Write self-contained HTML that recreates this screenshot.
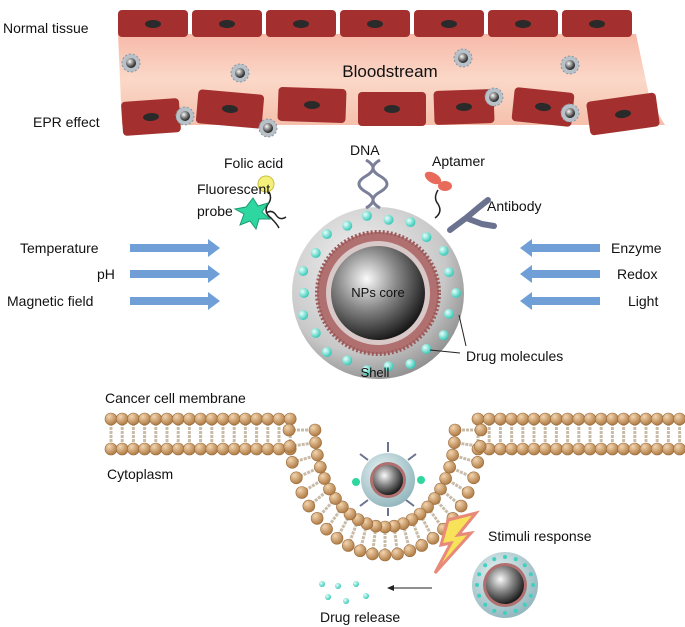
<!DOCTYPE html>
<html><head><meta charset="utf-8"><style>
body{margin:0;background:#fff}
svg{display:block}
text{font-family:"Liberation Sans",sans-serif;fill:#111}
</style></head><body>
<svg id="s" width="685" height="627" viewBox="0 0 685 627" xmlns="http://www.w3.org/2000/svg">
<defs>
<radialGradient id="core" cx="0.38" cy="0.35" r="0.7"><stop offset="0" stop-color="#fafafa"/><stop offset="0.45" stop-color="#8a8a8a"/><stop offset="1" stop-color="#111"/></radialGradient>
<radialGradient id="shell" cx="0.4" cy="0.35" r="0.7"><stop offset="0" stop-color="#f4f4f4"/><stop offset="0.7" stop-color="#c8c8c8"/><stop offset="1" stop-color="#8a8a8a"/></radialGradient>
<radialGradient id="shell2" cx="0.4" cy="0.35" r="0.7"><stop offset="0" stop-color="#e8f4f4"/><stop offset="1" stop-color="#8fb4bb"/></radialGradient>
<radialGradient id="head" cx="0.35" cy="0.3" r="0.7"><stop offset="0" stop-color="#f3d5b0"/><stop offset="1" stop-color="#b07c45"/></radialGradient>
<radialGradient id="drug" cx="0.35" cy="0.35" r="0.7"><stop offset="0" stop-color="#e8fffb"/><stop offset="1" stop-color="#2ec6b4"/></radialGradient>
<linearGradient id="blood" x1="0" y1="0" x2="0" y2="1"><stop offset="0" stop-color="#f7b9a8"/><stop offset="0.5" stop-color="#fbd8c8"/><stop offset="1" stop-color="#f5c0ac"/></linearGradient>
<marker id="ah" markerWidth="8" markerHeight="8" refX="6" refY="4" orient="auto"><path d="M0,1 L7,4 L0,7z" fill="#222"/></marker>
</defs>
<path d="M118,34 L636,34 L650,100 L665,125 L122,125 Z" fill="url(#blood)"/>
<g id="cells"></g>
<text x="3" y="33" font-size="14">Normal tissue</text>
<text x="33" y="127" font-size="14">EPR effect</text>
<text x="390" y="77" font-size="17" text-anchor="middle">Bloodstream</text>

<circle cx="378" cy="293" r="86" fill="url(#shell)"/>
<circle cx="378" cy="293" r="61" fill="#b07070" stroke="#9c5a5a" stroke-width="4" stroke-dasharray="2 2"/>
<circle cx="378" cy="293" r="52" fill="#d8c8c8"/>
<circle cx="378" cy="293" r="47" fill="url(#core)"/>
<text x="378" y="297" font-size="13" text-anchor="middle">NPs core</text>
<g id="drugs"></g>
<text x="375" y="377" font-size="13" text-anchor="middle">Shell</text>

<path d="M268,190 q5,8 0,14 q-5,8 3,14 q6,6 8,10" stroke="#222" fill="none" stroke-width="1.5"/>
<circle cx="266" cy="184" r="8" fill="#f5f07a" stroke="#c8c040"/>
<path d="M366,160 q14,8 0,16 q-14,8 0,16 q14,8 0,16 M380,160 q-14,8 0,16 q14,8 0,16 q-14,8 0,16" stroke="#7b7f9a" stroke-width="3" fill="none"/>
<path d="M438,190 q-5,8 0,14 q5,8 -3,14" stroke="#222" fill="none" stroke-width="1.5"/>
<ellipse cx="433" cy="178" rx="9" ry="5" fill="#e86a5a" transform="rotate(30 433 178)"/>
<ellipse cx="445" cy="186" rx="7" ry="5" fill="#e86a5a"/>
<path d="M450,230 L466,218 L478,208 M466,218 L482,224 M478,208 L488,200 M482,224 L494,226" stroke="#6b7290" stroke-width="6" fill="none" stroke-linecap="round"/>
<polygon points="253,198 258,206 268,203 262,212 270,219 259,219 256,229 250,221 240,225 244,214 235,209 246,207" fill="#2ed6a0" stroke="#1a9c70"/>
<path d="M266,213 q6,-4 10,2 q4,6 10,2" stroke="#222" fill="none" stroke-width="1.5"/>
<text x="224" y="168" font-size="14">Folic acid</text>
<text x="350" y="155" font-size="14">DNA</text>
<text x="432" y="166" font-size="14">Aptamer</text>
<text x="487" y="211" font-size="14">Antibody</text>
<text x="197" y="194" font-size="14">Fluorescent</text>
<text x="197" y="216" font-size="14">probe</text>
<line x1="459" y1="315" x2="466" y2="346" stroke="#222"/>
<line x1="430" y1="350" x2="460" y2="353" stroke="#222"/>
<text x="466" y="361" font-size="14">Drug molecules</text>

<g fill="#6f9fd6">
<path d="M130,244 h78 v-5 l12,9 -12,9 v-5 h-78z"/>
<path d="M130,270 h78 v-5 l12,9 -12,9 v-5 h-78z"/>
<path d="M130,297 h78 v-5 l12,9 -12,9 v-5 h-78z"/>
<path d="M600,244 h-68 v-5 l-12,9 12,9 v-5 h68z"/>
<path d="M600,270 h-68 v-5 l-12,9 12,9 v-5 h68z"/>
<path d="M600,297 h-68 v-5 l-12,9 12,9 v-5 h68z"/>
</g>
<text x="20" y="253" font-size="14">Temperature</text>
<text x="97" y="279" font-size="14">pH</text>
<text x="7" y="306" font-size="14">Magnetic field</text>
<text x="611" y="253" font-size="14">Enzyme</text>
<text x="617" y="279" font-size="14">Redox</text>
<text x="628" y="306" font-size="14">Light</text>

<g id="mem"></g>
<text x="105" y="403" font-size="14">Cancer cell membrane</text>
<text x="107" y="479" font-size="14">Cytoplasm</text>

<g stroke-width="2" fill="none">
<path d="M388,452 v-10 M408,460 l8,-6 M368,460 l-8,-6 M388,508 v8 M406,500 l8,6 M368,500 l-8,6" stroke="#6b7290"/>
</g>
<circle cx="356" cy="482" r="4" fill="#2ed6a0"/><circle cx="421" cy="480" r="4" fill="#2ed6a0"/>
<circle cx="388" cy="480" r="27" fill="url(#shell2)"/>
<circle cx="388" cy="480" r="18" fill="#b07070"/>
<circle cx="388" cy="480" r="15" fill="url(#core)"/>

<polygon points="448,520 476,513 458,535 471,533 435,573 451,543 441,545" fill="#f7e25a" stroke="#e88a7a" stroke-width="3"/>
<text x="488" y="541" font-size="14">Stimuli response</text>
<circle cx="505" cy="585" r="33" fill="url(#shell2)"/>
<circle cx="505" cy="585" r="22" fill="#b07070"/>
<circle cx="505" cy="585" r="19" fill="url(#core)"/>
<g id="drugs2"></g>
<line x1="432" y1="588" x2="388" y2="588" stroke="#222" marker-end="url(#ah)"/>
<text x="320" y="622" font-size="14">Drug release</text>
<g fill="url(#drug)">
<circle cx="322" cy="584" r="3"/><circle cx="338" cy="586" r="3"/><circle cx="356" cy="584" r="3"/><circle cx="328" cy="597" r="3"/><circle cx="346" cy="601" r="3"/><circle cx="366" cy="596" r="3"/>
</g>
</svg>
<script>
var NS="http://www.w3.org/2000/svg";
function el(p,t,a){var e=document.createElementNS(NS,t);for(var k in a)e.setAttribute(k,a[k]);p.appendChild(e);return e;}
var cells=document.getElementById('cells');
for(var i=0;i<7;i++){var x=118+i*74;el(cells,'rect',{x:x,y:10,width:70,height:27,rx:4,fill:'#a3302e'});el(cells,'ellipse',{cx:x+35,cy:24,rx:8,ry:4,fill:'#2a2a2a'});}
var bc=[[122,100,58,-4],[197,92,66,5],[278,88,68,2],[358,92,68,0],[434,90,60,-2],[513,90,60,6],[588,97,70,-8]];
bc.forEach(function(c){var g=el(cells,'g',{transform:'rotate('+c[3]+' '+(c[0]+c[2]/2)+' '+(c[1]+17)+')'});el(g,'rect',{x:c[0],y:c[1],width:c[2],height:34,rx:4,fill:'#a3302e'});el(g,'ellipse',{cx:c[0]+c[2]/2,cy:c[1]+17,rx:8,ry:4,fill:'#2a2a2a'});});
[[131,63],[240,73],[463,58],[570,65],[185,116],[268,128],[494,97],[570,113]].forEach(function(p){el(cells,'circle',{cx:p[0],cy:p[1],r:9,fill:'#b8c0c8',stroke:'#8a96a0','stroke-dasharray':'2 2'});el(cells,'circle',{cx:p[0],cy:p[1],r:5,fill:'url(#core)'});});
var dr=document.getElementById('drugs');
for(var i=0;i<22;i++){var a=i/22*2*Math.PI;var r=(i%2?74:78);el(dr,'circle',{cx:378+r*Math.cos(a),cy:293+r*Math.sin(a),r:5,fill:'url(#drug)'});}
var d2=document.getElementById('drugs2');
for(var i=0;i<16;i++){var a=i/16*2*Math.PI;el(d2,'circle',{cx:505+28*Math.cos(a),cy:585+28*Math.sin(a),r:2,fill:'#3fd0c0'});}
var m=document.getElementById('mem');
function pair(x1,y1,x2,y2){el(m,'line',{x1:x1,y1:y1,x2:x2,y2:y2,stroke:'#c8bca8','stroke-width':3,'stroke-dasharray':'3 1'});}
function head(x,y){el(m,'circle',{cx:x,cy:y,r:6,fill:'url(#head)',stroke:'#9a6a3a','stroke-width':0.6});}
var hs=[];
for(var x=111;x<=292;x+=11.2){pair(x,419,x,449);hs.push([x,419],[x,449]);}
for(var x=478;x<=690;x+=11.2){pair(x,419,x,449);hs.push([x,419],[x,449]);}
var cx=385,cy=430;
for(var t=0;t<=1.0001;t+=1/24){var a=Math.PI*t;var ox=cx+96*Math.cos(a),oy=cy+125*Math.sin(a);var ix=cx+70*Math.cos(a),iy=cy+97*Math.sin(a);pair(ox,oy,ix,iy);hs.push([ox,oy],[ix,iy]);}
hs.forEach(function(h){head(h[0],h[1]);});
</script>
</body></html>
